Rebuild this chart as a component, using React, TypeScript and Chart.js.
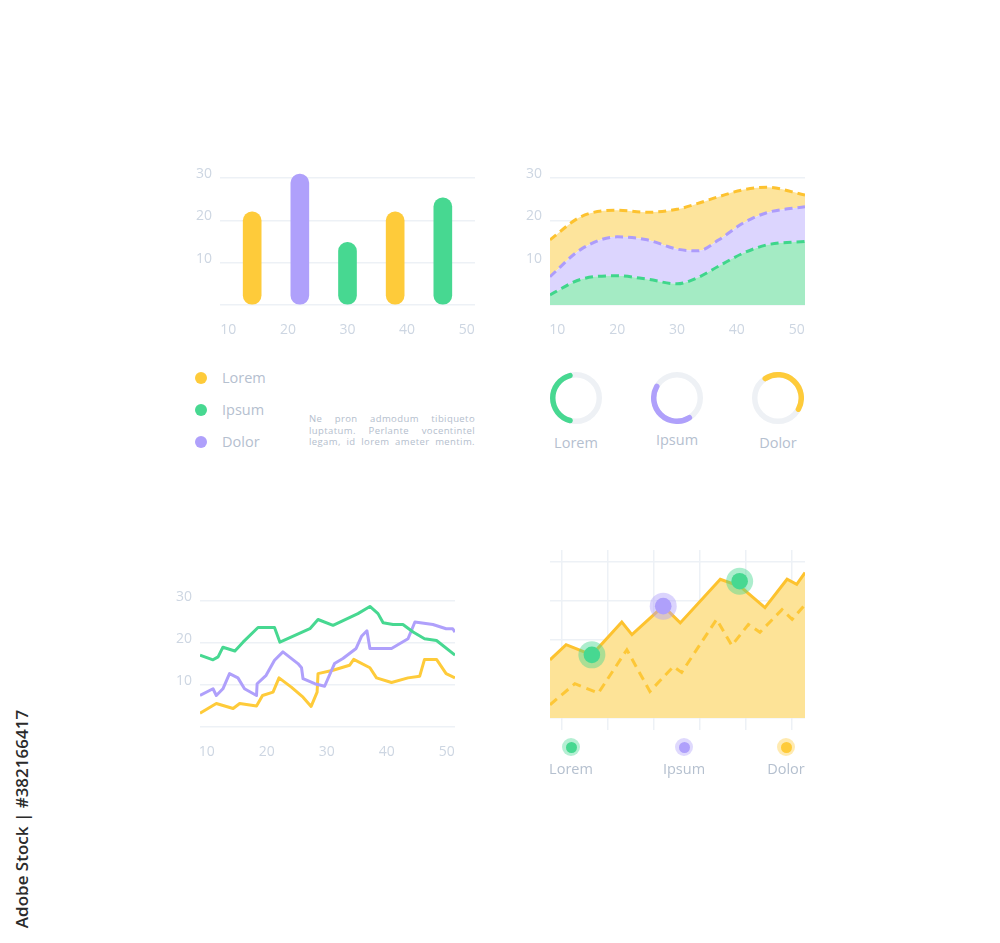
import React, { useEffect, useRef } from "react";
import { Chart, registerables } from "chart.js";

Chart.register(...registerables);

const FONT = "'Open Sans', 'DejaVu Sans', sans-serif";
const YELLOW = "#FECB3A";
const PURPLE = "#AFA0FB";
const GREEN = "#47D891";
const GRID = "#EDF1F6";
const TICK = "#CDD6E2";
const LABEL = "#B5C0CF";

// ---------- Top-left: bars ----------
const barXs = [14, 22, 30, 38, 46];
const barValues = [22, 30.9, 14.8, 22, 25.3];
const barColors = [YELLOW, PURPLE, GREEN, YELLOW, GREEN];
const xTickValues = [10, 20, 30, 40, 50];
const yTickValues = [0, 10, 20, 30];

// ---------- Top-right: stacked smooth areas (upper edges) ----------
const areaX = [8.78, 14, 20, 25, 30, 33.5, 37, 41, 45, 51.39];
const areaGreen = [2.4, 6.1, 6.9, 6.1, 5.0, 6.5, 9.2, 12.2, 14.2, 15.0];
const areaPurple = [6.7, 13.2, 16.1, 15.4, 13.2, 12.8, 15.4, 19.3, 21.8, 23.2];
const areaYellow = [15.4, 20.9, 22.4, 21.9, 22.6, 24.0, 25.6, 27.2, 27.8, 26.0];

// ---------- Bottom-left: three lines ----------
const lineGreenX = [8.88, 11.05, 11.9, 12.7, 14.7, 16.05, 18.55, 21.3, 22.2, 27.2, 28.55, 31.05, 35.2, 37.2, 38.55, 39.4, 41.05, 42.7, 44.4, 46.3, 48.3, 51.38];
const lineGreenY = [17.1, 16.0, 16.7, 19.0, 18.1, 20.2, 23.7, 23.7, 20.2, 23.4, 25.6, 24.2, 27.0, 28.7, 27.0, 24.8, 24.4, 24.4, 22.6, 21.0, 20.6, 17.1];
const linePurpleX = [8.88, 11.05, 11.6, 12.7, 13.8, 15.2, 16.3, 18.3, 18.4, 19.9, 21.3, 22.7, 25.2, 25.8, 26.05, 28.0, 29.65, 31.3, 32.7, 34.9, 35.8, 36.7, 37.2, 40.8, 43.55, 44.7, 47.7, 49.9, 51.0, 51.38];
const linePurpleY = [7.5, 9.1, 7.5, 9.1, 12.7, 11.7, 9.1, 7.5, 10.3, 12.3, 15.9, 17.9, 15.1, 14.1, 11.5, 10.3, 9.7, 15.1, 16.3, 18.7, 21.6, 22.9, 18.7, 18.7, 21.0, 25.0, 24.4, 23.4, 23.4, 22.6];
const lineYellowX = [8.88, 11.6, 14.4, 15.5, 18.3, 19.3, 21.05, 22.05, 24.1, 26.05, 27.4, 28.4, 28.55, 31.05, 33.8, 34.5, 37.2, 38.3, 40.8, 43.55, 45.5, 46.3, 48.3, 49.9, 51.38];
const lineYellowY = [3.3, 5.6, 4.4, 5.6, 5.0, 7.5, 8.3, 11.7, 9.5, 7.1, 4.9, 8.3, 12.7, 13.5, 14.7, 16.1, 14.1, 11.7, 10.6, 11.7, 12.1, 16.1, 16.1, 12.7, 11.7];

// ---------- Bottom-right: area + dashed line + markers ----------
const trendX = [0.74, 1.09, 1.65, 2.30, 2.52, 3.20, 3.57, 4.44, 4.87, 5.41, 5.89, 6.10, 6.28];
const trendY = [1.49, 1.88, 1.62, 2.46, 2.14, 2.87, 2.44, 3.56, 3.38, 2.83, 3.56, 3.43, 3.73];
const dashX = [0.74, 1.28, 1.79, 2.41, 2.91, 3.42, 3.60, 4.36, 4.69, 5.05, 5.30, 5.78, 6.0, 6.28];
const dashY = [0.34, 0.88, 0.64, 1.75, 0.68, 1.32, 1.17, 2.53, 1.86, 2.40, 2.20, 2.78, 2.53, 2.91];
const markerX = [1.65, 3.2, 4.86];
const markerY = [1.62, 2.87, 3.51];
const markerColors = [GREEN, PURPLE, GREEN];
const markerHalos = ["rgba(71,216,145,0.45)", "rgba(175,160,251,0.45)", "rgba(71,216,145,0.45)"];
const brGridX = [1, 2, 3, 4, 5, 6];
const brGridY = [0, 1, 2, 3, 4];

// ---------- Donuts ----------
const donutNames = ["Lorem", "Ipsum", "Dolor"];
const donutValues = [45.5, 46, 46];
const donutStart = [188, 141, 320];
const donutColors = [GREEN, PURPLE, YELLOW];

const legendNames = ["Lorem", "Ipsum", "Dolor"];

const tickFont = { family: FONT, size: 14 };

const pts = (xs: number[], ys: number[]) => xs.map((x, i) => ({ x, y: ys[i] }));

function xAxisLabels(min: number, max: number) {
  return {
    type: "linear",
    min,
    max,
    offset: false,
    afterBuildTicks: (s: any) => {
      s.ticks = xTickValues.map((v) => ({ value: v }));
    },
    grid: { display: false, offset: false },
    border: { display: false },
    ticks: { color: TICK, font: tickFont, padding: 9, autoSkip: false, maxRotation: 0 },
    afterFit: (s: any) => {
      s.height = 45;
    },
  };
}

function yAxis30() {
  return {
    min: 0,
    max: 30,
    afterBuildTicks: (s: any) => {
      s.ticks = yTickValues.map((v) => ({ value: v }));
    },
    grid: { color: GRID, drawTicks: false, lineWidth: 1.5 },
    border: { display: false },
    ticks: {
      color: TICK,
      font: tickFont,
      padding: 8,
      labelOffset: -4,
      callback: (v: any) => (v === 0 ? "" : String(v)),
    },
    afterFit: (s: any) => {
      s.width = 40;
    },
  };
}

const baseOpts = {
  responsive: false,
  animation: false,
  devicePixelRatio: 1,
  events: [],
  plugins: { legend: { display: false }, tooltip: { enabled: false } },
};

function ChartCanvas(props: { left: number; top: number; width: number; height: number; make: () => any }) {
  const ref = useRef<HTMLCanvasElement>(null);
  useEffect(() => {
    const chart = new Chart(ref.current as HTMLCanvasElement, props.make());
    return () => chart.destroy();
  }, []);
  return (
    <canvas
      ref={ref}
      width={props.width}
      height={props.height}
      style={{ position: "absolute", left: props.left, top: props.top, width: props.width, height: props.height }}
    />
  );
}

const makeBars = () => ({
  type: "bar",
  data: {
    datasets: [
      {
        data: pts(barXs, barValues),
        backgroundColor: barColors,
        borderRadius: 20,
        borderSkipped: false,
        barThickness: 18,
        clip: false,
      },
    ],
  },
  options: {
    ...baseOpts,
    layout: { padding: { top: 20, right: 15, bottom: 0, left: 0 } },
    scales: { x: xAxisLabels(8.6, 51.4), y: yAxis30() },
  },
});

const makeAreas = () => {
  const common = { pointRadius: 0, borderWidth: 3, borderDash: [8, 5], cubicInterpolationMode: "monotone" };
  return {
    type: "line",
    data: {
      datasets: [
        { ...common, data: pts(areaX, areaGreen), borderColor: "#3FD68B", backgroundColor: "#A4EBC4", fill: "origin" },
        { ...common, data: pts(areaX, areaPurple), borderColor: "#AD9CFB", backgroundColor: "#DCD5FE", fill: "-1" },
        { ...common, data: pts(areaX, areaYellow), borderColor: "#FDC22F", backgroundColor: "#FDE49C", fill: "-1" },
      ],
    },
    options: {
      ...baseOpts,
      layout: { padding: { top: 20, right: 15, bottom: 0, left: 0 } },
      scales: { x: xAxisLabels(8.78, 51.39), y: yAxis30() },
    },
  };
};

const makeLines = () => {
  const common = { pointRadius: 0, borderWidth: 3, tension: 0, borderJoinStyle: "round", fill: false };
  return {
    type: "line",
    data: {
      datasets: [
        { ...common, data: pts(lineGreenX, lineGreenY), borderColor: GREEN },
        { ...common, data: pts(linePurpleX, linePurpleY), borderColor: PURPLE },
        { ...common, data: pts(lineYellowX, lineYellowY), borderColor: YELLOW },
      ],
    },
    options: {
      ...baseOpts,
      layout: { padding: { top: 20, right: 15, bottom: 0, left: 0 } },
      scales: { x: xAxisLabels(8.88, 51.38), y: yAxis30() },
    },
  };
};

const makeTrend = () => ({
  type: "line",
  data: {
    datasets: [
      {
        data: pts(markerX, markerY),
        showLine: false,
        pointRadius: 8.3,
        pointBackgroundColor: markerColors,
        pointBorderWidth: 0,
        clip: false,
      },
      {
        data: pts(markerX, markerY),
        showLine: false,
        pointRadius: 13.5,
        pointBackgroundColor: markerHalos,
        pointBorderWidth: 0,
        clip: false,
      },
      {
        data: pts(dashX, dashY),
        pointRadius: 0,
        borderWidth: 3,
        borderDash: [9, 6],
        borderColor: "#FDC737",
        tension: 0,
        fill: false,
      },
      {
        data: pts(trendX, trendY),
        pointRadius: 0,
        borderWidth: 3,
        borderColor: "#FDC22E",
        backgroundColor: "#FDE397",
        borderJoinStyle: "miter",
        tension: 0,
        fill: "origin",
      },
    ],
  },
  options: {
    ...baseOpts,
    layout: { autoPadding: false, padding: { top: 10, right: 15, bottom: 0, left: 10 } },
    scales: {
      x: {
        type: "linear",
        min: 0.74,
        max: 6.28,
        afterBuildTicks: (s: any) => {
          s.ticks = brGridX.map((v) => ({ value: v }));
        },
        grid: { color: GRID, drawTicks: true, tickLength: 12, lineWidth: 1.5 },
        border: { display: false },
        ticks: { display: false },
        afterFit: (s: any) => {
          s.height = 22;
        },
      },
      y: {
        min: 0,
        max: 4.31,
        afterBuildTicks: (s: any) => {
          s.ticks = brGridY.map((v) => ({ value: v }));
        },
        grid: { color: GRID, drawTicks: false, lineWidth: 1.5 },
        border: { display: false },
        ticks: { display: false },
        afterFit: (s: any) => {
          s.width = 0;
        },
      },
    },
  },
});

const ringPlugin = {
  id: "ring",
  beforeDatasetsDraw(chart: any) {
    const arc = chart.getDatasetMeta(0).data[0];
    if (!arc) return;
    const { x, y, innerRadius, outerRadius } = arc.getProps(["x", "y", "innerRadius", "outerRadius"], true);
    const ctx = chart.ctx;
    ctx.save();
    ctx.beginPath();
    ctx.arc(x, y, (innerRadius + outerRadius) / 2, 0, Math.PI * 2);
    ctx.lineWidth = outerRadius - innerRadius;
    ctx.strokeStyle = "#EEF1F5";
    ctx.stroke();
    ctx.restore();
  },
};

const makeDonut = (i: number) => () => ({
  type: "doughnut",
  data: {
    datasets: [
      {
        data: [donutValues[i], 100 - donutValues[i]],
        backgroundColor: [donutColors[i], "rgba(0,0,0,0)"],
        borderWidth: 0,
        borderRadius: [10, 0],
      },
    ],
  },
  options: {
    ...baseOpts,
    rotation: donutStart[i],
    cutout: "79%",
    layout: { padding: 0 },
  },
  plugins: [ringPlugin],
});

const textStyle: React.CSSProperties = {
  position: "absolute",
  fontFamily: FONT,
  color: LABEL,
  fontSize: 14.5,
  lineHeight: "20px",
  whiteSpace: "nowrap",
};

function Centered(props: { cx: number; cy: number; text: string }) {
  return (
    <div style={{ ...textStyle, left: props.cx - 50, top: props.cy - 10, width: 100, textAlign: "center" }}>{props.text}</div>
  );
}

function Dot(props: { cx: number; cy: number; r: number; color: string }) {
  return (
    <div
      style={{
        position: "absolute",
        left: props.cx - props.r,
        top: props.cy - props.r,
        width: props.r * 2,
        height: props.r * 2,
        borderRadius: "50%",
        background: props.color,
      }}
    />
  );
}

const paraLines = ["Ne pron admodum tibiqueto", "luptatum. Perlante vocentintel", "legam, id lorem ameter mentim."];

export default function App() {
  const donutCx = [576, 677, 778];
  const donutLabelY = [443, 440, 443];
  const legendTL = [
    { y: 378, c: YELLOW, t: legendNames[0] },
    { y: 410, c: GREEN, t: legendNames[1] },
    { y: 442, c: PURPLE, t: legendNames[2] },
  ];
  const legendBR = [
    { x: 571, c: GREEN, h: "rgba(71,216,145,0.4)", t: legendNames[0] },
    { x: 684, c: PURPLE, h: "rgba(175,160,251,0.4)", t: legendNames[1] },
    { x: 786, c: YELLOW, h: "rgba(254,203,58,0.4)", t: legendNames[2] },
  ];
  return (
    <div
      style={{
        position: "absolute",
        left: 0,
        top: 0,
        width: 1000,
        height: 943,
        background: "#FFFFFF",
        overflow: "hidden",
        fontFamily: FONT,
      }}
    >
      <ChartCanvas left={180} top={158} width={310} height={192} make={makeBars} />
      <ChartCanvas left={510} top={158} width={310} height={192} make={makeAreas} />
      <ChartCanvas left={160} top={581} width={310} height={191} make={makeLines} />
      <ChartCanvas left={540} top={540} width={280} height={200} make={makeTrend} />

      {donutCx.map((cx, i) => (
        <ChartCanvas key={"d" + i} left={cx - 26} top={398 - 26} width={52} height={52} make={makeDonut(i)} />
      ))}
      {donutCx.map((cx, i) => (
        <Centered key={"dl" + i} cx={cx} cy={donutLabelY[i]} text={donutNames[i]} />
      ))}

      {legendTL.map((l, i) => (
        <React.Fragment key={"tl" + i}>
          <Dot cx={201} cy={l.y} r={6} color={l.c} />
          <div style={{ ...textStyle, left: 222, top: l.y - 10 }}>{l.t}</div>
        </React.Fragment>
      ))}

      <div
        style={{
          position: "absolute",
          left: 309,
          top: 413,
          width: 166,
          fontFamily: FONT,
          fontSize: 9.5,
          lineHeight: "11.7px",
          color: "#B4BECD",
          letterSpacing: 0.4,
        }}
      >
        {paraLines.map((l, i) => (
          <div key={i} style={{ textAlign: "justify", textAlignLast: "justify" }}>
            {l}
          </div>
        ))}
      </div>

      {legendBR.map((l, i) => (
        <React.Fragment key={"br" + i}>
          <Dot cx={l.x} cy={747} r={9} color={l.h} />
          <Dot cx={l.x} cy={747} r={5.5} color={l.c} />
          <Centered cx={l.x} cy={769} text={l.t} />
        </React.Fragment>
      ))}

      <div
        style={{
          position: "absolute",
          left: 22 - 115,
          top: 819 - 11,
          width: 230,
          height: 22,
          lineHeight: "22px",
          textAlign: "center",
          transform: "rotate(-90deg)",
          fontFamily: FONT,
          fontSize: 17,
          fontWeight: 600,
          color: "#2B2B2B",
          whiteSpace: "nowrap",
        }}
      >
        Adobe Stock | #382166417
      </div>
    </div>
  );
}
